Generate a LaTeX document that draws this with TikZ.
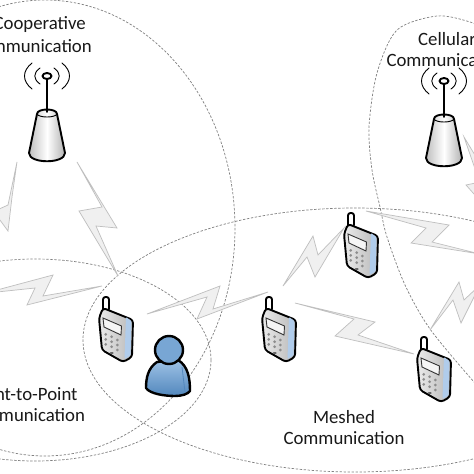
\documentclass[tikz,border=0pt]{standalone}
\usepackage{fontspec}
\setmainfont{Carlito}
\definecolor{netSideBlue}{rgb}{0.690,0.800,0.920}
\definecolor{netSkinTop}{rgb}{0.620,0.760,0.900}
\definecolor{netSkinLow}{rgb}{0.320,0.530,0.740}
\definecolor{netHead}{rgb}{0.470,0.650,0.830}
\begin{document}
\begin{tikzpicture}[
  zonecurve/.style={draw=black!50, line width=0.7pt, dash pattern=on 2.4pt off 1.6pt},
  boltshape/.style={draw=black!25, fill=black!6, line width=0.7pt, line join=miter},
  zonelabel/.style={text=black!90, font=\fontsize{18.8}{21}\selectfont, inner sep=0pt, align=center},
  darkline/.style={draw=black, line width=1.9pt, line join=round, line cap=round},
  thinline/.style={draw=black, line width=0.9pt, line cap=round},
  keydot/.style={fill=black!45}
]
% Reference picture in pixel units, y pointing down
\def\cellsz{1pt}
% One phone, origin at the top of its antenna
\providecommand{\netPhone}[2]{%
  \begin{scope}[shift={(#1,#2)}]
    \draw[darkline, fill=white, rounded corners=2.5pt] (-3,0) rectangle (3,14);
    \draw[darkline, left color=black!8, right color=black!28, rounded corners=3pt] (-7,21) -- (-3,11) -- (27,23) -- (26,60) -- (17,65) -- (-4,53) -- cycle;
    \fill[netSideBlue, rounded corners=1pt] (20,20) -- (25.5,24) -- (24.5,58.5) -- (18.5,62) -- cycle;
    \draw[draw=black!80, line width=0.9pt, fill=black!4] (-3,21) -- (15.5,29) -- (15,38) -- (-2,30) -- cycle;
    \fill[keydot] (-0.3,37.3) circle (1.5);
    \fill[keydot] (5.7,39.7) circle (1.5);
    \fill[keydot] (11.3,43) circle (1.5);
    \fill[keydot] (-0.3,42.3) circle (1.5);
    \fill[keydot] (5.7,44.7) circle (1.5);
    \fill[keydot] (11.3,48) circle (1.5);
    \fill[keydot] (-0.3,47.3) circle (1.5);
    \fill[keydot] (5.7,49.7) circle (1.5);
    \fill[keydot] (11.3,53) circle (1.5);
    \fill[black!60] (5.7,56) ellipse (2 and 1);
  \end{scope}}
% One tower, origin at the knob on its mast
\providecommand{\netTower}[2]{%
  \begin{scope}[shift={(#1,#2)}]
    \path[left color=black!25, right color=black!30, middle color=white] (-10,38) -- (-18,77) .. controls (-18,88) and (18,88) .. (18,77) -- (10,38) .. controls (10,32) and (-10,32) .. (-10,38) -- cycle;
    \draw[darkline] (-10,38) -- (-18,77) .. controls (-18,88) and (18,88) .. (18,77) -- (10,38) .. controls (10,32) and (-10,32) .. (-10,38) -- cycle;
    \draw[thinline] (-10,38) .. controls (-8,42) and (8,42) .. (10,38);
    \draw[darkline] (0,3) -- (0,36);
    \draw[darkline, fill=white] (0,0) ellipse (4.5 and 3);
    \draw[thinline] (-7,-8) .. controls (-14,-3) and (-14,3) .. (-7,8);
    \draw[thinline] (7,-8) .. controls (14,-3) and (14,3) .. (7,8);
    \draw[thinline] (-15,-13) .. controls (-25,-5) and (-25,5) .. (-15,13);
    \draw[thinline] (15,-13) .. controls (25,-5) and (25,5) .. (15,13);
  \end{scope}}
\begin{scope}[x=\cellsz, y=-\cellsz]
  % Page frame
  \useasboundingbox (0,0) rectangle (474,474);
  \clip (0,0) rectangle (474,474);
  \fill[white] (0,0) rectangle (474,474);
  % Zones
  \draw[zonecurve] (45,228) ellipse (190 and 228);
  \draw[zonecurve] (35,360) ellipse (176 and 101);
  \draw[zonecurve] (355,340) ellipse (272 and 132);
  \draw[zonecurve] plot[smooth] coordinates {(490,32) (470,22) (437,16) (397,30) (377,73) (369,127) (372,170) (380,207) (387,237) (405,285) (430,329) (474,382) (490,398)};
  % Radio links
  \draw[boltshape] (17,162) -- (8,205) -- (-3,210) -- (-3,216) -- (8,231) -- (12,197) -- cycle;
  \draw[boltshape] (77,162) -- (102,207) -- (79,211) -- (118,276) -- (96,226) -- (117,228) -- cycle;
  \draw[boltshape] (102,286) -- (43,296) -- (53,275) -- (-3,290) -- (-3,292) -- (35,288) -- (27,305) -- cycle;
  \draw[boltshape] (147,314) -- (220,286) -- (213,309) -- (268,292) -- (197,319) -- (207,297) -- cycle;
  \draw[boltshape] (283,286) -- (313,236) -- (318,255) -- (344,228) -- (315,277) -- (307,257) -- cycle;
  \draw[boltshape] (366,211) -- (449,225) -- (432,242) -- (480,254) -- (411,243) -- (426,228) -- cycle;
  \draw[boltshape] (464,137) -- (490,180) -- (466,185) -- (490,212) -- cycle;
  \draw[boltshape] (430,330) -- (459,282) -- (464,300) -- (480,285) -- (461,323) -- (453,300) -- cycle;
  \draw[boltshape] (295,303) -- (375,322) -- (358,335) -- (414,354) -- (335,336) -- (354,319) -- cycle;
  % Towers
  \netTower{47}{76}
  \netTower{444}{81}
  % Phones
  \netPhone{106}{297}
  \netPhone{351}{213}
  \netPhone{269}{297}
  \netPhone{424}{337}
  % Person
  \draw[darkline, line width=2.4pt, top color=netSkinTop, bottom color=netSkinLow] (157,362) .. controls (148,368) and (146,378) .. (146,388) .. controls (150,394) and (165,396) .. (175,396) .. controls (182,396) and (188,394) .. (190,391) .. controls (190,378) and (188,366) .. (178,360) -- cycle;
  \draw[draw=netSkinLow, line width=0.8pt] (182,367) -- (185,392);
  \draw[darkline, line width=2.4pt, fill=netHead] (169,350) circle (14);
  % Labels
  \node[zonelabel, anchor=east] (cooptop) at (86,25) {Cooperative};
  \node[zonelabel, anchor=east] (coopcom) at (92,46) {Communication};
  \node[zonelabel] (celltext) at (447,50) {Cellular\\Communication};
  \node[zonelabel] (p2ptext) at (24.5,404.5) {Point-to-Point\\Communication};
  \node[zonelabel] (meshtext) at (344,427.5) {Meshed\\Communication};
\end{scope}
\end{tikzpicture}
\end{document}
